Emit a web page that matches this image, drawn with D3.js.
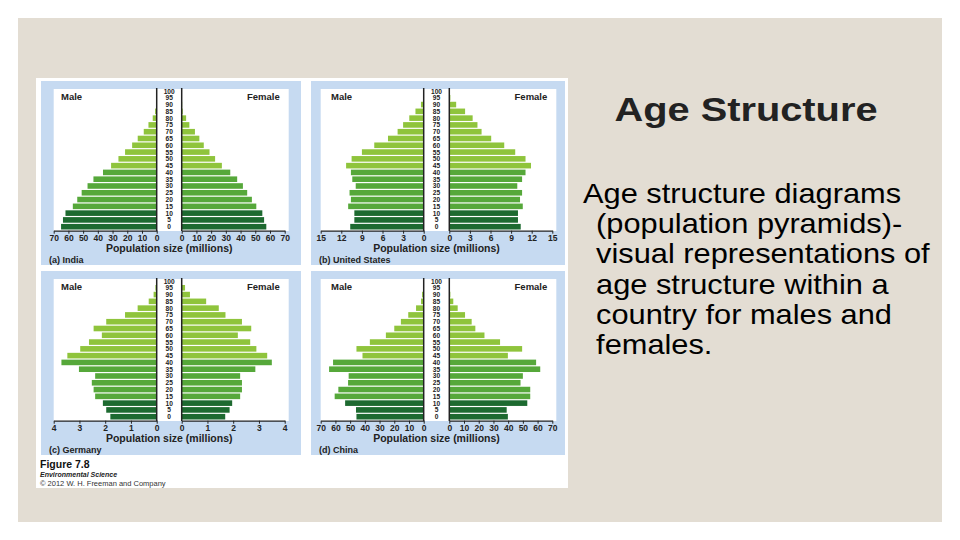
<!DOCTYPE html>
<html><head><meta charset="utf-8">
<script src="https://cdn.jsdelivr.net/npm/d3@7"></script>
<style>body{margin:0;background:#fff}svg{display:block}</style>
</head><body>
<svg id="c" width="960" height="540"></svg>
<script>
var ages = [0,5,10,15,20,25,30,35,40,45,50,55,60,65,70,75,80,85,90,95];
var ageLabels = [0,5,10,15,20,25,30,35,40,45,50,55,60,65,70,75,80,85,90,95,100];

var indiaMale = [65,63.7,62,57,54,51,47,43,36.5,31,26,21.5,16.7,12.9,8.8,5.6,2.7,1.1,0.3,0.1];
var indiaFemale = [57.5,56,54.8,50.7,47.7,44.5,41.6,37.7,33,27.3,22.7,18.9,15,12,9,5.2,3,0.7,0.3,0.1];
var usMale = [10.7,10.1,10.1,11,10.6,10.8,9.9,10.4,10.6,11.3,10.5,9,7.2,5.2,3.8,3,2.1,1.2,0.4,0.1];
var usFemale = [10.4,10,10,10.7,10.3,10.6,9.9,10.6,11.1,11.9,11.1,9.6,8,6.1,4.7,4.1,3.4,2.3,1,0.15];
var germanyMale = [1.8,1.96,2.09,2.39,2.45,2.52,2.39,3.02,3.7,3.47,2.97,2.63,2.13,2.45,1.96,1.23,0.74,0.31,0.12,0.05];
var germanyFemale = [1.69,1.86,1.96,2.27,2.34,2.34,2.27,2.86,3.5,3.32,2.9,2.66,2.18,2.7,2.34,1.7,1.44,0.95,0.32,0.13];
var chinaMale = [45.7,46,53.4,60.5,58,51.4,51,64.3,61.6,41.6,45.7,36.6,25.7,20,15.5,10.5,5.2,1.8,1.1,0.2];
var chinaFemale = [39.8,39,53,55,55,48.4,50,61.8,59,39.8,49.5,34.5,23.9,17.7,15.2,10.7,5.7,2.7,0.7,0.2];

var ticks70 = [0,10,20,30,40,50,60,70];
var ticks15 = [0,3,6,9,12,15];
var ticks4 = [0,1,2,3,4];

var svg = d3.select("#c");
var font = "Liberation Sans, Arial, sans-serif";

svg.append("rect").attr("x",18).attr("y",18).attr("width",924).attr("height",504).attr("fill","#e3ddd3");
svg.append("rect").attr("x",36).attr("y",78).attr("width",532).attr("height",410).attr("fill","#fff");

function colorFor(a) {
  if (a < 15) return "#1d6a30";
  if (a < 45) return "#56a83a";
  return "#8fc43c";
}

function pyramid(ox, oy, male, female, max, ticks, name, pw) {
  var g = svg.append("g").attr("transform","translate(" + ox + "," + oy + ")");
  var half = 103;
  var lz = 120.7, rz = 145.7;
  if (pw === "narrow") { lz = 117.7; rz = 143.3; }
  var xl = d3.scaleLinear().domain([0,max]).range([lz, lz - half]);
  var xr = d3.scaleLinear().domain([0,max]).range([rz, rz + half]);
  var y = d3.scaleLinear().domain([0,100]).range([146.7, 11]);
  var pw2 = pw === "narrow" ? 258 : 264;

  g.append("rect").attr("x",5).attr("y",1).attr("width",pw2 - 4).attr("height",184).attr("fill","#c6daf1");
  g.append("rect").attr("x",xl(max)).attr("y",9).attr("width",xr(max) - xl(max) + 4).attr("height",142).attr("fill","#fff");

  var bh = 5.6;
  g.selectAll(".m").data(ages).enter().append("rect")
    .attr("x", function(d,i){ return xl(male[i]); })
    .attr("y", function(d){ return y(d) - bh/2; })
    .attr("width", function(d,i){ return lz - xl(male[i]); })
    .attr("height", bh).attr("fill", colorFor);
  g.selectAll(".f").data(ages).enter().append("rect")
    .attr("x", rz)
    .attr("y", function(d){ return y(d) - bh/2; })
    .attr("width", function(d,i){ return xr(female[i]) - rz; })
    .attr("height", bh).attr("fill", colorFor);

  [lz, rz].forEach(function(x){
    g.append("line").attr("x1",x).attr("x2",x).attr("y1",8).attr("y2",151)
      .attr("stroke","#222").attr("stroke-width",1.5);
  });

  g.selectAll(".al").data(ageLabels).enter().append("text")
    .attr("x",(lz + rz)/2).attr("y",function(d){ return y(d) + 2.5; })
    .attr("text-anchor","middle").attr("font-family",font).attr("font-weight","bold")
    .attr("font-size",6.6).attr("fill","#222").text(function(d){ return d; });

  var axL = d3.axisBottom(xl).tickValues(ticks).tickSize(3).tickSizeOuter(0).tickFormat(d3.format("d"));
  var axR = d3.axisBottom(xr).tickValues(ticks).tickSize(3).tickSizeOuter(0).tickFormat(d3.format("d"));
  [axL, axR].forEach(function(ax){
    var a = g.append("g").attr("transform","translate(0,150.7)").call(ax);
    a.select(".domain").attr("stroke","#222").attr("stroke-width",1.2);
    a.selectAll("line").attr("stroke","#222");
    a.selectAll("text").attr("font-family",font).attr("font-weight","bold")
      .attr("font-size",8.5).attr("fill","#222").attr("dy","0.45em");
  });

  g.append("text").attr("x",(lz + rz)/2).attr("y",172).attr("text-anchor","middle")
    .attr("font-family",font).attr("font-weight","bold").attr("font-size",10.5).attr("fill","#222")
    .text("Population size (millions)");
  g.append("text").attr("x",13).attr("y",182.5).attr("font-family",font).attr("font-weight","bold")
    .attr("font-size",9).attr("fill","#222").text(name);
  g.append("text").attr("x",25).attr("y",19.5).attr("font-family",font).attr("font-weight","bold")
    .attr("font-size",9.5).attr("fill","#222").text("Male");
  g.append("text").attr("x",xr(max) - 5).attr("y",19.5).attr("text-anchor","end").attr("font-family",font)
    .attr("font-weight","bold").attr("font-size",9.5).attr("fill","#222").text("Female");
}

pyramid(36, 80, indiaMale, indiaFemale, 70, ticks70, "(a) India", "wide");
pyramid(306, 80, usMale, usFemale, 15, ticks15, "(b) United States", "narrow");
pyramid(36, 270, germanyMale, germanyFemale, 4, ticks4, "(c) Germany", "wide");
pyramid(306, 270, chinaMale, chinaFemale, 70, ticks70, "(d) China", "narrow");

svg.append("text").attr("x",40).attr("y",468).attr("font-family",font).attr("font-weight","bold")
  .attr("font-size",10.5).attr("fill","#111").text("Figure 7.8");
svg.append("text").attr("x",40).attr("y",477).attr("font-family",font).attr("font-style","italic")
  .attr("font-weight","bold").attr("font-size",7).attr("fill","#222").text("Environmental Science");
svg.append("text").attr("x",40).attr("y",486).attr("font-family",font)
  .attr("font-size",7.5).attr("fill","#333").text("\u00a9 2012 W. H. Freeman and Company");

svg.append("g").attr("transform","translate(746,121) scale(1.17,1)")
  .append("text").attr("text-anchor","middle").attr("font-family",font)
  .attr("font-weight","bold").attr("font-size",34).attr("fill","#222").text("Age Structure");

var lines = ["Age structure diagrams","(population pyramids)-","visual representations of","age structure within a","country for males and","females."];
svg.append("g").attr("transform","translate(583,0) scale(1.14,1)")
  .selectAll("text").data(lines).enter().append("text")
  .attr("x",function(d,i){ return i === 0 ? 0 : 11.5; })
  .attr("y",function(d,i){ return 203 + i*30.2; })
  .attr("font-family",font).attr("font-size",27).attr("fill","#000")
  .text(function(d){ return d; });
</script>
</body></html>
